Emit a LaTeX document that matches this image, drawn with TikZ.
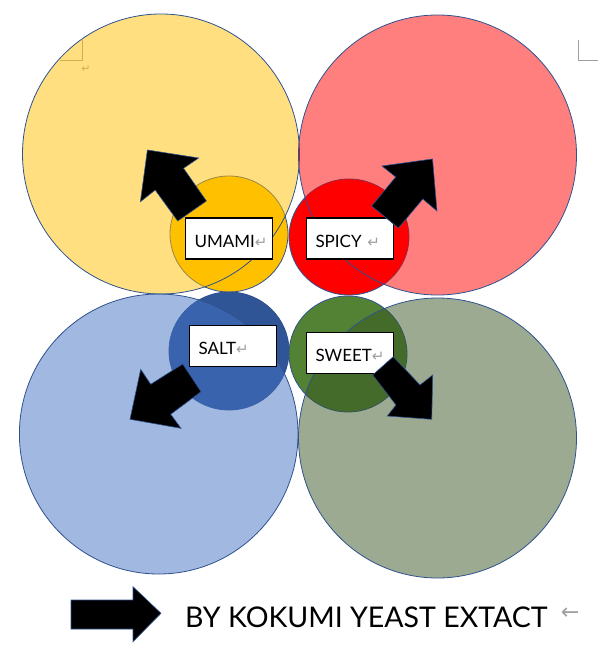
\documentclass[tikz,border=0pt]{standalone}
\usepackage{fontspec}
\setmainfont{Lato}
\newfontfamily\symfont{DejaVu Sans}
\definecolor{outline}{HTML}{2F528F}
\definecolor{markgray}{HTML}{A0A0A0}
\definecolor{umamicol}{HTML}{FFC000}
\definecolor{spicycol}{HTML}{FF0000}
\definecolor{saltcol}{HTML}{2F5597}
\definecolor{saltbig}{HTML}{4472C4}
\definecolor{sweetcol}{HTML}{548235}
\definecolor{sweetbig}{HTML}{375623}
\tikzset{
  smalldisc/.style={draw=outline,line width=.8pt},
  bigdisc/.style={draw=outline,line width=.8pt,fill opacity=.5},
  tastebox/.style={draw=black,line width=1.3pt,fill=white,minimum height=41pt,
    text width=69pt,inner xsep=9pt,inner ysep=0pt,align=left,
    text height=17pt,text depth=0pt,font=\fontsize{17}{17}\selectfont},
  blockarrow/.style={fill=black,draw=outline,line width=.6pt,line join=miter},
}
\newcommand\retmark{{\symfont\color{markgray}\fontsize{15}{15}\selectfont ↵}}
\begin{document}
\begin{tikzpicture}[x=1pt,y=-1pt]
   \useasboundingbox (0,0) rectangle (608,666);
   % page corner marks
   \draw[markgray,line width=.8pt] (82,40) -- (82,60) -- (60,60);
   \draw[markgray,line width=.8pt] (578,40) -- (578,60) -- (598,60);
   \node[font=\symfont\fontsize{11}{11}\selectfont,text=markgray,inner sep=0pt] (topmark) at (86,69) {↵};
   % small circles
   \draw[smalldisc,fill=umamicol] (229,234) ellipse [x radius=59,y radius=58];
   \draw[smalldisc,fill=spicycol] (349,237) ellipse [x radius=60,y radius=58];
   \draw[smalldisc,fill=saltcol] (229,351) ellipse [x radius=60,y radius=59];
   \draw[smalldisc,fill=sweetcol] (348,354) ellipse [x radius=59,y radius=58];
   % big circles
   \draw[bigdisc,fill=umamicol] (161,154) ellipse [x radius=138.5,y radius=140];
   \draw[bigdisc,fill=spicycol] (437.5,155) ellipse [x radius=139,y radius=140];
   \draw[bigdisc,fill=saltbig] (158.7,434) ellipse [x radius=139.3,y radius=140];
   \draw[bigdisc,fill=sweetbig] (437.5,438) ellipse [x radius=139,y radius=140];
   % labels
   \node[tastebox] (umami) at (229,238.5) {UMAMI\retmark};
   \node[tastebox] (spicy) at (350,238.5) {SPICY \retmark};
   \node[tastebox] (salt) at (233,345.8) {SALT\retmark};
   \node[tastebox] (sweet) at (350,352.8) {SWEET\retmark};
   % arrows
   \draw[blockarrow] (177.7,221) -- (155.2,190) -- (140.4,201.7) -- (147.4,150)
      -- (198.6,158) -- (183.5,168.3) -- (206.4,201) -- cycle;
   \draw[blockarrow] (371.6,206) -- (395.7,177) -- (382,166) -- (432.5,159)
      -- (437,211) -- (422.8,199) -- (398.4,228) -- cycle;
   \draw[blockarrow] (182.7,364) -- (150.7,384.3) -- (140.7,369.3) -- (130,419.3)
      -- (181,428.3) -- (170.7,414.3) -- (201,391.7) -- cycle;
   \draw[blockarrow] (393.3,356.7) -- (420,385) -- (432.7,375) -- (431.7,419.3)
      -- (387.3,416) -- (396,405) -- (372.7,375) -- cycle;
   % legend
   \draw[blockarrow] (71,600) -- (133,600) -- (133,586.7) -- (161,613.3)
      -- (133,641.7) -- (133,629) -- (71,629) -- cycle;
   \node[anchor=base west,inner sep=0pt,font=\fontsize{28.5}{28.5}\selectfont] (legend) at (185,627.3) {BY KOKUMI YEAST EXTACT};
   \node[font=\symfont\fontsize{22}{22}\selectfont,text=markgray,inner sep=0pt] (legendmark) at (570,614) {←};
\end{tikzpicture}
\end{document}
